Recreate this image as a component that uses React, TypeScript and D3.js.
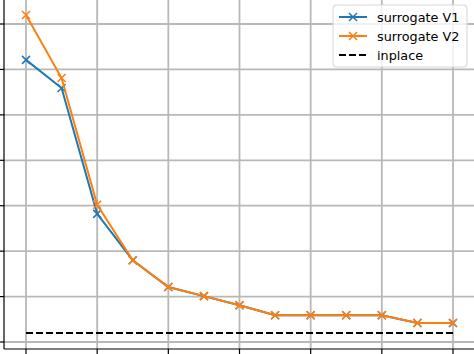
import React from "react";
import * as d3 from "d3";

const steps = [0, 1, 2, 3, 4, 5, 6, 7, 8, 9, 10, 11, 12];
const surrogateV1 = [6.21, 5.59, 2.82, 1.8, 1.21, 1.01, 0.81, 0.59, 0.59, 0.59, 0.59, 0.42, 0.42];
const surrogateV2 = [7.2, 5.81, 3.02, 1.8, 1.21, 1.01, 0.81, 0.59, 0.59, 0.59, 0.59, 0.42, 0.42];
const inplace = [0.2, 0.2];
const yTicks = [0, 1, 2, 3, 4, 5, 6, 7];
const xTicks = [0, 2, 4, 6, 8, 10, 12];
const legendLabels = ["surrogate V1", "surrogate V2", "inplace"];

const W = 474;
const H = 354;
const left = 4;
const bottom = 349;

export default function App() {
  const x = d3.scaleLinear().domain([0, 12]).range([26, 453]);
  const y = d3.scaleLinear().domain([0, 7]).range([342, 24]);
  const line = d3
    .line<number>()
    .x((_, i) => x(steps[i]))
    .y((d) => y(d));
  const cross = (cx: number, cy: number, color: string, key: string) => {
    const s = 4;
    return (
      <path
        key={key}
        d={`M${cx - s},${cy - s}L${cx + s},${cy + s}M${cx - s},${cy + s}L${cx + s},${cy - s}`}
        stroke={color}
        strokeWidth={1.5}
      />
    );
  };
  const blue = "#1f77b4";
  const orange = "#ff7f0e";
  const lx = 333;
  const ly = 5;
  return (
    <div style={{ position: "fixed", left: 0, top: 0 }}>
      <svg width={W} height={H} style={{ display: "block", fontFamily: "DejaVu Sans" }}>
        <rect width={W} height={H} fill="#fff" />
        {yTicks.map((t) => (
          <line key={"gy" + t} x1={left} x2={W} y1={y(t)} y2={y(t)} stroke="#b8b8b8" strokeWidth={1.8} />
        ))}
        {xTicks.map((t) => (
          <line key={"gx" + t} x1={x(t)} x2={x(t)} y1={0} y2={bottom} stroke="#b8b8b8" strokeWidth={1.8} />
        ))}
        <line
          x1={x(0)}
          x2={x(12)}
          y1={y(inplace[0])}
          y2={y(inplace[1])}
          stroke="#000"
          strokeWidth={2}
          strokeDasharray="7,3"
        />
        <path d={line(surrogateV1) || ""} fill="none" stroke={blue} strokeWidth={2} />
        {surrogateV1.map((v, i) => cross(x(steps[i]), y(v), blue, "b" + i))}
        <path d={line(surrogateV2) || ""} fill="none" stroke={orange} strokeWidth={2} />
        {surrogateV2.map((v, i) => cross(x(steps[i]), y(v), orange, "o" + i))}
        <line x1={left} x2={left} y1={0} y2={bottom} stroke="#000" strokeWidth={1.2} />
        <line x1={left} x2={W} y1={bottom} y2={bottom} stroke="#000" strokeWidth={1.2} />
        {yTicks.map((t) => (
          <line key={"ty" + t} x1={left - 5} x2={left} y1={y(t)} y2={y(t)} stroke="#000" strokeWidth={1.2} />
        ))}
        {xTicks.map((t) => (
          <line key={"tx" + t} x1={x(t)} x2={x(t)} y1={bottom} y2={bottom + 5} stroke="#000" strokeWidth={1.2} />
        ))}
        <rect x={lx} y={ly} width={134} height={62} rx={3} fill="#fff" fillOpacity={0.8} stroke="#d6d6d6" />
        {legendLabels.map((lab, i) => {
          const yy = ly + 12 + i * 19;
          const col = i === 0 ? blue : i === 1 ? orange : "#000";
          return (
            <g key={lab}>
              <line
                x1={lx + 6}
                x2={lx + 34}
                y1={yy}
                y2={yy}
                stroke={col}
                strokeWidth={2}
                strokeDasharray={i === 2 ? "7,3" : undefined}
              />
              {i < 2 && cross(lx + 20, yy, col, "lc" + i)}
              <text x={lx + 44} y={yy + 4.7} fontSize={12.8} fill="#000">
                {lab}
              </text>
            </g>
          );
        })}
      </svg>
    </div>
  );
}
